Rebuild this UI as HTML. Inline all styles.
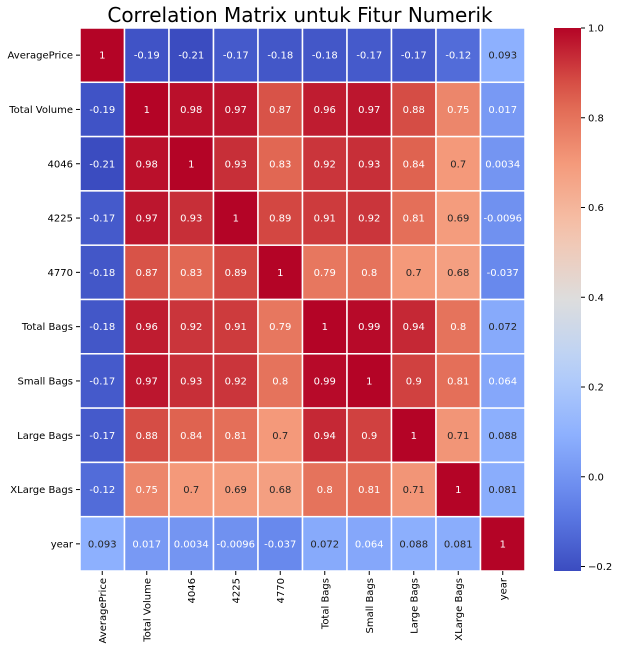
<!DOCTYPE html>
<html><head><meta charset="utf-8"><style>
body{margin:0;background:#fff;font-family:"Liberation Sans","DejaVu Sans",sans-serif}
svg text{font-family:"DejaVu Sans","Liberation Sans",sans-serif}
</style></head><body>
<svg id="c" width="619" height="651" xmlns="http://www.w3.org/2000/svg">
<text x="300" y="22" font-size="20" text-anchor="middle" fill="#000">Correlation Matrix untuk Fitur Numerik</text>
<defs><linearGradient id="cg" x1="0" y1="1" x2="0" y2="0"></linearGradient></defs>
</svg>
<script>
const labels=["AveragePrice","Total Volume","4046","4225","4770","Total Bags","Small Bags","Large Bags","XLarge Bags","year"];
const row0=[1,-0.19,-0.21,-0.17,-0.18,-0.18,-0.17,-0.17,-0.12,0.093];
const row1=[-0.19,1,0.98,0.97,0.87,0.96,0.97,0.88,0.75,0.017];
const row2=[-0.21,0.98,1,0.93,0.83,0.92,0.93,0.84,0.7,0.0034];
const row3=[-0.17,0.97,0.93,1,0.89,0.91,0.92,0.81,0.69,-0.0096];
const row4=[-0.18,0.87,0.83,0.89,1,0.79,0.8,0.7,0.68,-0.037];
const row5=[-0.18,0.96,0.92,0.91,0.79,1,0.99,0.94,0.8,0.072];
const row6=[-0.17,0.97,0.93,0.92,0.8,0.99,1,0.9,0.81,0.064];
const row7=[-0.17,0.88,0.84,0.81,0.7,0.94,0.9,1,0.71,0.088];
const row8=[-0.12,0.75,0.7,0.69,0.68,0.8,0.81,0.71,1,0.081];
const row9=[0.093,0.017,0.0034,-0.0096,-0.037,0.072,0.064,0.088,0.081,1];
const matrix=[row0,row1,row2,row3,row4,row5,row6,row7,row8,row9];
const cbTicks=[-0.2,0.0,0.2,0.4,0.6,0.8,1.0];
const vmin=-0.21,vmax=1;
const L=80,T=28,W=445,H=543,n=10,cw=W/n,ch=H/n;
const stops=[[59,76,192],[98,130,234],[141,176,254],[184,208,249],[221,221,221],[245,196,173],[244,154,123],[222,96,77],[180,4,38]];
function cmap(v){let t=(v-vmin)/(vmax-vmin);t=Math.max(0,Math.min(1,t));const p=t*8,i=Math.min(7,Math.floor(p)),f=p-i;const a=stops[i],b=stops[i+1];return [0,1,2].map(k=>Math.round(a[k]+(b[k]-a[k])*f));}
function lum(c){const l=c.map(x=>{x/=255;return x<=0.03928?x/12.92:Math.pow((x+0.055)/1.055,2.4)});return 0.2126*l[0]+0.7152*l[1]+0.0722*l[2];}
const svg=document.getElementById('c');const NS="http://www.w3.org/2000/svg";
function mk(t,a,p){const e=document.createElementNS(NS,t);for(const k in a)e.setAttribute(k,a[k]);(p||svg).appendChild(e);return e;}
const X=j=>L+j*cw, Y=i=>T+i*ch;
matrix.forEach((r,i)=>r.forEach((v,j)=>{
 const c=cmap(v);
 const rc=mk('rect',{x:X(j),y:Y(i),width:cw,height:ch,fill:`rgb(${c})`,stroke:'#fff','stroke-width':1.5});
 
 
 const tx=mk('text',{x:X(j)+cw/2,y:Y(i)+ch/2+3.5,'font-size':10,'text-anchor':'middle',fill:lum(c)>0.408?'#262626':'#fff'});
 tx.textContent=String(v);
 
 
}));
labels.forEach((lb,i)=>{
 mk('line',{x1:L-4,x2:L,y1:Y(i)+ch/2,y2:Y(i)+ch/2,stroke:'#000'});
 const t=mk('text',{x:L-7,y:Y(i)+ch/2+3.5,'font-size':10,'text-anchor':'end',fill:'#000'});
 t.textContent=lb;
 
 
 const cx=X(i)+cw/2;
 mk('line',{x1:cx,x2:cx,y1:T+H,y2:T+H+4,stroke:'#000'});
 const t2=mk('text',{x:cx+3.5,y:T+H+7,'font-size':10,'text-anchor':'end',fill:'#000',transform:`rotate(-90 ${cx+3.5} ${T+H+7})`});
 t2.textContent=lb;
 
 
});
// colorbar
const g=document.getElementById('cg');
for(let k=0;k<=20;k++){const v=vmin+(vmax-vmin)*k/20;mk('stop',{offset:(k/20),'stop-color':`rgb(${cmap(v)})`},g);}
const CX=554,CW=27;
const cb=mk('rect',{x:CX,y:T,width:CW,height:H,fill:'url(#cg)'});


const CY=v=>T+H-(v-vmin)/(vmax-vmin)*H;
cbTicks.forEach(v=>{
 const y=CY(v);
 mk('line',{x1:CX+CW,x2:CX+CW+4,y1:y,y2:y,stroke:'#000'});
 const t=mk('text',{x:CX+CW+7,y:y+3.5,'font-size':10,fill:'#000'});
 t.textContent=(v<0?'\u22120.2':v.toFixed(1));
 
 
});
</script>
</body></html>
